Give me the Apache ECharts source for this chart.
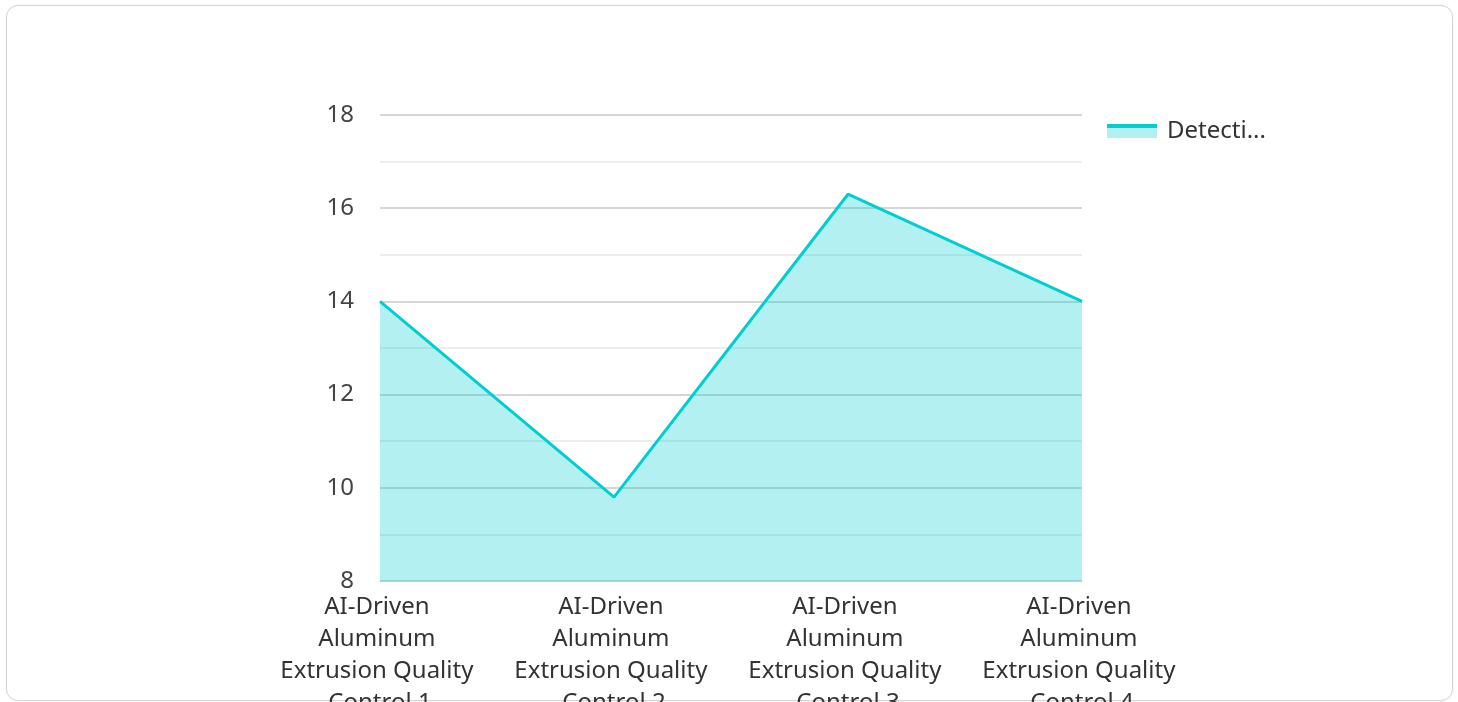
<!DOCTYPE html>
<html>
<head>
<meta charset="utf-8">
<script src="https://cdn.jsdelivr.net/npm/echarts@6/dist/echarts.min.js"></script>
<style>
  html, body { margin: 0; padding: 0; background: #fff; }
  .card {
    position: absolute; left: 6px; top: 5px; width: 1447px; height: 696px;
    border: 1.5px solid #d4d4d4; border-radius: 12px; box-sizing: border-box;
    box-shadow: 0 0 2px rgba(0,0,0,0.08); overflow: hidden;
  }
  #chart { position: absolute; left: 0; top: 0; width: 1458px; height: 702px; }
</style>
</head>
<body>
<div class="card"></div>
<div id="chart"></div>
<script>
  // categories and values
  var categories = [
    'AI-Driven Aluminum Extrusion Quality Control 1',
    'AI-Driven Aluminum Extrusion Quality Control 2',
    'AI-Driven Aluminum Extrusion Quality Control 3',
    'AI-Driven Aluminum Extrusion Quality Control 4'
  ]
  var seriesName = 'Detection Rate'
  var detectionValues = [14, 9.8, 16.3, 14]

  var lineColor = '#00CED1'
  var areaColor = '#B3F0F1'

  var chart = echarts.init(document.getElementById('chart'))
  chart.setOption({
    color: [lineColor],
    textStyle: { fontFamily: 'Noto Sans' },
    grid: { left: 380, right: 376, top: 115, bottom: 121, outerBoundsMode: 'none', containLabel: false },
    legend: {
      orient: 'vertical',
      left: 1102,
      top: 114,
      itemWidth: 50,
      itemHeight: 14,
      textStyle: { fontSize: 24, color: '#333', width: 105, overflow: 'truncate', padding: [0, 0, 0, 5] },
      data: [{
        name: seriesName,
        icon: 'rect',
        itemStyle: {
          // line on top, area below, like the series itself
          color: {
            type: 'linear', x: 0, y: 0, x2: 0, y2: 1,
            colorStops: [
              { offset: 0, color: lineColor },
              { offset: 0.28, color: lineColor },
              { offset: 0.28, color: areaColor },
              { offset: 1, color: areaColor }
            ]
          },
          borderWidth: 0
        }
      }]
    },
    xAxis: {
      type: 'category',
      boundaryGap: false,
      data: categories,
      axisTick: { show: false },
      axisLine: { lineStyle: { color: '#ccc' } },
      axisLabel: {
        interval: 0,
        fontSize: 24,
        color: '#333',
        width: 215,
        overflow: 'break',
        lineHeight: 32,
        margin: 10
      }
    },
    yAxis: {
      type: 'value',
      min: 8,
      max: 18,
      interval: 2,
      axisLabel: { fontSize: 24, color: '#444', margin: 26 },
      axisLine: { show: false },
      axisTick: { show: false },
      splitLine: { lineStyle: { color: '#c8c8c8', width: 1.5 } },
      minorTick: { show: false, splitNumber: 2 },
      minorSplitLine: { show: true, lineStyle: { color: '#e8e8e8', width: 1.5 } }
    },
    series: [{
      name: seriesName,
      type: 'line',
      data: detectionValues,
      symbol: 'none',
      lineStyle: { width: 3 },
      areaStyle: { opacity: 0.3 }
    }]
  })
</script>
</body>
</html>
